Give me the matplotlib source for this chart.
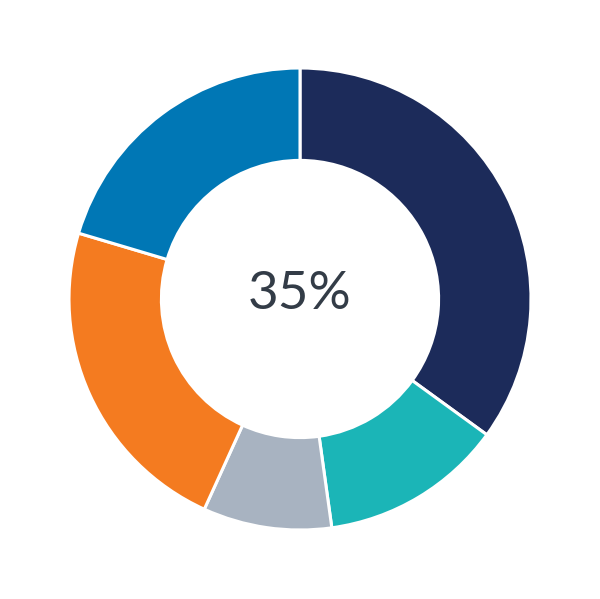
import matplotlib.pyplot as plt

# donut slices, clockwise from 12 o'clock
labels = ['Navy', 'Teal', 'Gray', 'Orange', 'Blue']
values = [35, 12.8, 9.0, 22.8, 20.4]
colors = ['#1c2b5a', '#1bb5b7', '#a8b3c1', '#f47b20', '#0077b5']
center_text = '35%'

R = 231.0  # outer radius in pixels
fig = plt.figure(figsize=(6.0, 5.99), dpi=100)
ax = fig.add_axes([0, 0, 1, 1])
ax.pie(values, colors=colors, startangle=90, counterclock=False,
       radius=1.0,
       wedgeprops=dict(width=0.40, edgecolor='white', linewidth=2.2))
ax.text(0, 0.02, center_text, ha='center', va='center', fontsize=38,
        family=['Lato', 'DejaVu Sans'], fontweight='normal', color='#333c47')
ax.set_xlim(-300 / R, 300 / R)
ax.set_ylim(-300 / R, 299 / R)
ax.set_aspect('equal')
ax.axis('off')
fig.savefig('out.png', dpi=100, facecolor='white')
